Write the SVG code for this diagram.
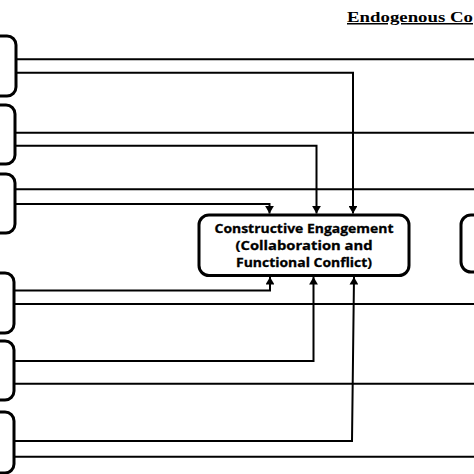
<svg xmlns="http://www.w3.org/2000/svg" width="474" height="474" viewBox="0 0 474 474">
<style>
.node{fill:#fff;stroke:#000;stroke-width:3}
.ln{fill:none;stroke:#000;stroke-width:2}
.lbl{font-family:"Open Sans","Liberation Sans",sans-serif;font-weight:bold;font-size:13px;text-anchor:middle;fill:#000;stroke:#000;stroke-width:0.3}
.title{font-family:"Liberation Serif","Times New Roman",serif;font-weight:bold;font-size:15px;fill:#000;text-decoration:underline}
</style>
<defs>
<marker id="ah" viewBox="0 0 6 7" refX="6" refY="3.5" markerWidth="3.8" markerHeight="4.4" orient="auto" markerUnits="strokeWidth">
<path d="M0,0 L6,3.5 L0,7 z" fill="#000"/>
</marker>
</defs>
<rect width="474" height="474" fill="#fff"/>
<text class="title" x="347" y="22" textLength="126" lengthAdjust="spacingAndGlyphs">Endogenous Co</text>
<g id="connectors">
<path class="ln" d="M16,59.3 H480"/>
<path class="ln" d="M16,72.7 H353 V213.5" marker-end="url(#ah)"/>
<path class="ln" d="M16,132.7 H480"/>
<path class="ln" d="M16,145.7 H316.5 V213.5" marker-end="url(#ah)"/>
<path class="ln" d="M16,189.3 H480"/>
<path class="ln" d="M16,204 H269.5 V213.5" marker-end="url(#ah)"/>
<path class="ln" d="M15,290.5 H270 V277" marker-end="url(#ah)"/>
<path class="ln" d="M15,304 H480"/>
<path class="ln" d="M15,361 H313.5 V277" marker-end="url(#ah)"/>
<path class="ln" d="M15,383.7 H480"/>
<path class="ln" d="M15,441 H352 L354,277" marker-end="url(#ah)"/>
<path class="ln" d="M15,456.7 H480"/>
</g>
<g id="n1"><rect class="node" x="-40" y="36" width="56" height="60" rx="9"/></g>
<g id="n2"><rect class="node" x="-40" y="105" width="55" height="59" rx="9"/></g>
<g id="n3"><rect class="node" x="-40" y="174" width="55" height="59" rx="9"/></g>
<g id="n4"><rect class="node" x="-40" y="273" width="54" height="60" rx="9"/></g>
<g id="n5"><rect class="node" x="-40" y="341" width="54" height="59" rx="9"/></g>
<g id="n6"><rect class="node" x="-40" y="412" width="54" height="61" rx="9"/></g>
<g id="center">
<rect class="node" x="199" y="215" width="210" height="60.5" rx="10"/>
<text class="lbl" x="304" y="232.5" textLength="179" lengthAdjust="spacingAndGlyphs">Constructive Engagement</text>
<text class="lbl" x="304" y="249.5" textLength="137" lengthAdjust="spacingAndGlyphs">(Collaboration and</text>
<text class="lbl" x="304" y="266.5" textLength="136" lengthAdjust="spacingAndGlyphs">Functional Conflict)</text>
</g>
<g id="right"><rect class="node" x="461" y="215" width="60" height="57" rx="10"/></g>
</svg>
